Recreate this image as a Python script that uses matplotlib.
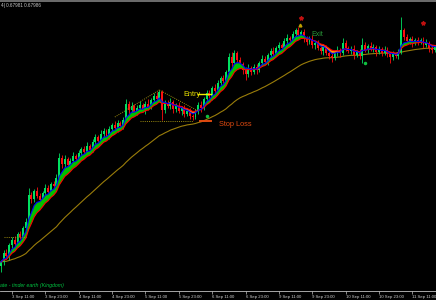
import matplotlib
matplotlib.use("Agg")
import matplotlib.pyplot as plt
import numpy as np
import pandas as pd

# hourly candles, in points (only relative levels matter, no price scale is shown)
first_open = 34
close_pts = [38, 47, 44, 55, 60, 56, 66, 63, 72, 78,
             105, 101, 109, 104, 100, 107, 112, 108, 116, 114, 122,
             142, 136, 141, 135, 139, 144, 141, 147, 151, 148, 154,
             150, 158, 163, 159, 166, 169, 164, 171, 175, 172, 177, 174, 180,
             196, 190, 194, 188, 192, 195, 190, 196, 193, 200, 204, 201, 208,
             190, 197, 194, 198, 191, 194, 189, 192, 186, 189, 184, 183,
             189, 195, 192, 201, 207, 204, 212, 209, 217, 222, 219, 228,
             243, 237, 247, 240, 236, 230, 226, 232, 228, 233, 230, 237,
             241, 238, 245, 249, 246, 252, 255, 252, 259, 262, 260, 266, 270,
             265, 268, 262, 258, 261, 255, 257, 252, 249, 253, 247, 244, 242,
             247, 250, 247, 257, 252, 249, 251, 245, 248, 244,
             255, 250, 254, 251, 253, 248, 251, 247, 250, 246, 243, 246, 244, 248,
             270, 263, 259, 261, 257, 260, 258, 260, 255, 257, 252, 250, 253, 251]
up_wick = [2, 3, 4, 2, 3, 4, 2, 3, 2, 4,
           7, 3, 2, 4, 3, 2, 4, 3, 2, 3,
           4, 5, 3, 4, 2, 3, 4, 2, 3, 2,
           3, 4, 2, 3, 3, 2, 4, 3, 2, 3,
           2, 4, 3, 2, 3, 5, 3, 4, 2, 3,
           4, 2, 3, 5, 2, 3, 4, 2, 2, 3,
           3, 4, 2, 3, 4, 2, 3, 2, 3, 2,
           2, 3, 4, 2, 3, 3, 2, 4, 3, 2,
           3, 2, 4, 5, 3, 2, 3, 2, 3, 4,
           2, 3, 3, 2, 4, 3, 2, 3, 4, 2,
           3, 2, 3, 4, 2, 3, 2, 3, 2, 3,
           2, 3, 4, 2, 3, 2, 3, 2, 2, 3,
           3, 4, 2, 5, 3, 2, 3, 4, 2, 3,
           7, 3, 2, 4, 3, 2, 3, 2, 4, 3,
           2, 3, 2, 3, 13, 2, 3, 2, 3, 2,
           3, 2, 3, 4, 2, 3, 2, 3]
dn_wick = [6, 3, 2, 4, 3, 2, 3, 2, 3, 2,
           3, 4, 3, 2, 4, 3, 2, 4, 3, 2,
           3, 2, 4, 3, 2, 3, 2, 4, 3, 2,
           3, 2, 4, 2, 3, 3, 2, 4, 2, 3,
           2, 3, 4, 2, 3, 2, 4, 3, 2, 3,
           3, 2, 4, 3, 2, 3, 2, 3, 10, 3,
           2, 3, 4, 3, 2, 4, 3, 2, 3, 3,
           2, 3, 4, 2, 3, 2, 4, 3, 2, 3,
           2, 3, 2, 4, 3, 2, 3, 4, 6, 3,
           3, 2, 4, 2, 3, 2, 3, 2, 3, 2,
           2, 3, 2, 3, 2, 2, 3, 2, 3, 4,
           3, 2, 3, 4, 2, 3, 4, 2, 3, 4,
           2, 3, 4, 2, 3, 2, 3, 4, 2, 3,
           7, 2, 3, 2, 3, 4, 2, 3, 2, 3,
           6, 3, 2, 3, 2, 3, 2, 3, 4, 2,
           3, 2, 3, 2, 4, 3, 2, 3]

tick_idx = [4, 16, 28, 40, 52, 64, 76, 88, 100, 112, 124, 136, 148]
tick_labels = ["3 Sep 11:00", "3 Sep 23:00", "4 Sep 11:00", "4 Sep 23:00",
               "5 Sep 11:00", "5 Sep 23:00", "6 Sep 11:00", "6 Sep 23:00",
               "9 Sep 11:00", "9 Sep 23:00", "10 Sep 11:00", "10 Sep 23:00",
               "11 Sep 11:00"]

# trade marks
entry_idx, entry_px = 74, 206
stop_px = 179
exit_idx, exit_px = 112, 266
signal_idx = [108, 152]
signal_px = [282, 277]
green_dot_idx = [74, 131]
green_dot_px = [184, 237]

# hand drawn pattern lines (index, level)
support_line = ([50, 69], [179, 179])
rise_line = ([41, 57], [183, 210])
fall_line = ([57, 71], [210, 189])
base_line = ([1, 9], [63, 63])

closes = np.array(close_pts, dtype=float)
opens = np.r_[first_open, closes[:-1]]
highs = np.maximum(opens, closes) + np.array(up_wick)
lows = np.minimum(opens, closes) - np.array(dn_wick)
x = np.arange(len(closes))
up = closes >= opens

fig = plt.figure(figsize=(4.36, 3.0), dpi=100, facecolor="black")
ax = fig.add_axes([0, 0.03, 1, 0.9633])
ax.set_facecolor("black")

# slow moving average
slow_ma = pd.Series(closes).ewm(span=40, adjust=False).mean()
ax.plot(x, slow_ma, color="#9a7d0a", lw=0.8, zorder=2)

# candles
bull, bear = "#00e060", "#ff1010"
cols = np.where(up, bull, bear)
ax.vlines(x, lows, highs, colors=cols, lw=0.6, zorder=3)
ax.bar(x, closes - opens, bottom=opens, width=0.7, color=cols, linewidth=0, zorder=3)

# ribbon
fast = pd.Series(closes).ewm(span=5, adjust=False).mean().values
slow = pd.Series(closes).ewm(span=9, adjust=False).mean().values
ax.fill_between(x, fast, slow, where=fast >= slow, color="#00c000", interpolate=True, lw=0, zorder=4)
ax.fill_between(x, fast, slow, where=fast < slow, color="#ffa000", interpolate=True, lw=0, zorder=4)
ax.plot(x, slow, color="#ff0000", lw=0.8, zorder=5)
ax.plot(x, fast, color="#0000ff", lw=0.8, zorder=5)

# pattern lines
for xs, ys in [support_line, rise_line, fall_line, base_line]:
    ax.plot(xs, ys, color="#9a8a10", lw=0.7, ls=(0, (1, 1.2)), zorder=6)

# entry / stop / exit
ax.plot([entry_idx - 3, entry_idx + 1.5], [entry_px, entry_px], color="#f0f000", lw=1.0, zorder=7)
ax.text(entry_idx - 8.5, entry_px, "Entry", color="#e8e000", fontsize=5.3,
        family="Liberation Sans", va="center", ha="left", zorder=7)
ax.plot([entry_idx - 2.5, entry_idx + 1.5], [stop_px, stop_px], color="#e04a10", lw=1.4, zorder=7)
ax.text(entry_idx + 4.5, stop_px - 3, "Stop Loss", color="#e04a10", fontsize=5.3,
        family="Liberation Sans", va="center", ha="left", zorder=7)
ax.text(exit_idx - 0.3, exit_px, "Exit", color="#2a9a3a", fontsize=5,
        family="Liberation Sans", va="center", ha="left", zorder=7)
ax.plot(signal_idx, signal_px, ls="none", marker="*", ms=3, color="#c01010", zorder=7)
ax.plot(green_dot_idx, green_dot_px, ls="none", marker="o", ms=1.5, color="#10c040", zorder=7)
ax.plot([107.5], [275], ls="none", marker="^", ms=2, color="#c0a000", zorder=7)

ax.set_xlim(-0.3, 156.5)
ax.set_ylim(9, 298)
ax.set_yticks([])
ax.set_xticks(tick_idx)
ax.set_xticklabels(tick_labels, fontsize=3.1, color="#d0d0d0", ha="left", family="Liberation Sans")
ax.tick_params(axis="x", length=2, width=0.5, color="#c0c0c0", pad=1)
for s in ["top", "left", "right"]:
    ax.spines[s].set_visible(False)
ax.spines["bottom"].set_color("#c0c0c0")
ax.spines["bottom"].set_linewidth(0.6)

# window border and header texts
fig.add_artist(plt.Line2D([0, 1], [0.997, 0.997], color="#808080", lw=1.2))
fig.text(0.002, 0.982, "4| 0.67981 0.67986", fontsize=3.3, color="#c8c8c8",
         family="Liberation Sans", va="center")
fig.text(0.0, 0.05, "ate - tinder earth (Kingdom)", fontsize=3.8, color="#00c040",
         style="italic", family="Liberation Sans", va="center")

fig.savefig("out.png", dpi=100, facecolor="black")
